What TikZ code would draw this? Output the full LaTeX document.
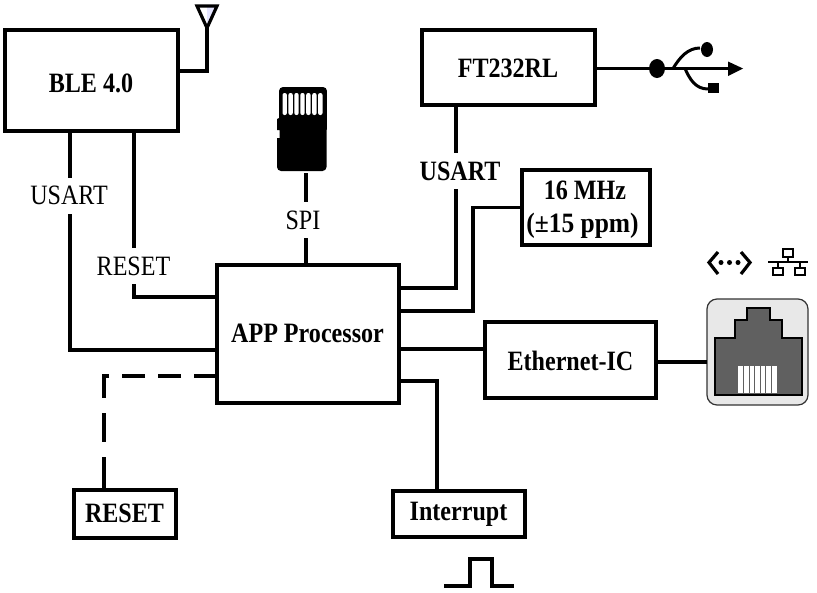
\documentclass[tikz,border=0pt]{standalone}
\usepackage{graphicx}
\usepackage{fontspec}
\usetikzlibrary{shapes.geometric}
\setmainfont{Liberation Serif}
\newcommand{\tall}[2][.86]{\scalebox{#1}[1]{#2}}
\begin{document}
\begin{tikzpicture}[x=1pt,y=-1pt]
    \tikzstyle{box} = [draw, line width=3.4pt, outer sep=0pt, inner sep=0pt, font=\fontsize{28}{32}\selectfont\bfseries, align=center];
    \tikzstyle{wire} = [line width=3.4pt];
    \tikzstyle{busname} = [fill=white, inner xsep=1pt, inner ysep=0pt, minimum height=36pt, font=\fontsize{28}{32}\selectfont];
    \tikzstyle{icon} = [line width=3.2pt, line join=miter];
    \definecolor{jackfill}{HTML}{606060}
    \definecolor{jackback}{HTML}{E8E8E8}
    \useasboundingbox (0,0) rectangle (817,592);

    % blocks
    \node [box, minimum width=173pt, minimum height=101pt] (ble) at (91.5,80.5) {};
    \node [box, minimum width=173pt, minimum height=75pt] (ftdi) at (508.5,67.5) {};
    \node [box, minimum width=128pt, minimum height=75pt] (xtal) at (586,207.5) {};
    \node [box, minimum width=182pt, minimum height=138pt] (app) at (308,334) {};
    \node [box, minimum width=171pt, minimum height=76pt] (eth) at (570.5,360) {};
    \node [box, minimum width=102pt, minimum height=48pt] (rst) at (125,514) {};
    \node [box, minimum width=132pt, minimum height=46pt] (irq) at (459,514) {};
    \node [draw=black!80, fill=jackback, line width=1.2pt, rounded corners=10pt, outer sep=0pt, minimum width=101pt, minimum height=106pt] (rj) at (757.5,352) {};
    \node [ellipse, fill=black, inner sep=0pt, minimum width=16pt, minimum height=19pt] (usbdot) at (657,68.5) {};

    % block texts
    \node [box, draw=none] (bletext) at (91,83.5) {\tall{BLE 4.0}};
    \node [box, draw=none] (ftditext) at (508,68) {\tall{FT232RL}};
    \node [box, draw=none] (xtaltop) at (585,190) {\tall{16 MHz}};
    \node [box, draw=none] (xtalbot) at (582.5,226) {\tall[.91]{(±15 ppm)}};
    \node [box, draw=none] (apptext) at (307.5,333) {\tall{APP Processor}};
    \node [box, draw=none] (ethtext) at (570.5,361) {\tall{Ethernet-IC}};
    \node [box, draw=none] (rsttext) at (124.5,513) {\tall{RESET}};
    \node [box, draw=none] (irqtext) at (458.5,514) {\tall{Interrupt}};

    % free ends
    \coordinate (antenna) at (207,28);
    \coordinate (sdcard) at (306,173);
    \coordinate (rstcorner) at (104,376);

    % connections
    \draw [wire] (ble.south -| 70,0) |- (app.west |- 0,350);
    \draw [wire] (ble.south -| 134,0) |- (app.west |- 0,297);
    \draw [wire, dash pattern=on 23pt off 13pt] (app.west |- rstcorner) -- ([xshift=-1.7pt]rstcorner);
    \draw [wire, dash pattern=on 22pt off 15pt on 29pt off 15pt on 40pt off 1pt] (rstcorner) -- (rst.north -| rstcorner);
    \draw [wire] (ble.east |- 0,71) -| (antenna);
    \draw [wire] (app.north -| sdcard) -- (sdcard);
    \draw [wire] (ftdi.south -| 456,0) |- (app.east |- 0,288);
    \draw [wire] (xtal.west) -| (473,311) -- (app.east |- 0,311);
    \draw [wire] (app.east |- 0,349) -- (eth.west |- 0,349);
    \draw [wire] (app.east |- 0,381) -| (irq.north -| 437,0);
    \draw [wire] (eth.east |- 0,362) -- (rj.west |- 0,362);
    \draw [wire] (ftdi.east |- usbdot) -- (usbdot);

    % bus names
    \node [busname] (usartble) at (69,195.5) {\tall{USART}};
    \node [busname] (resetble) at (133.5,266) {\tall{RESET}};
    \node [busname] (spi) at (303,220) {\tall{SPI}};
    \node [busname, font=\fontsize{28}{32}\selectfont\bfseries] (usartftdi) at (460,171) {\tall{USART}};

    % antenna
    \fill [blue!10] (207,7) -- (216,7) -- (207,27) -- cycle;
    \draw [icon] (197,6) -- (217,6) -- (207,28) -- cycle;

    % usb symbol
    \draw [line width=3.2pt] (usbdot) -- (730,68.5);
    \fill (728,61.5) -- (743,68.5) -- (728,76) -- cycle;
    \draw [line width=3pt] (673,68.5) .. controls (680,57) and (688,48) .. (700,48);
    \fill (707,49.5) ellipse (6pt and 7.5pt);
    \draw [line width=3pt] (685,68.5) .. controls (690,80) and (696,89) .. (708,89);
    \fill (708,83) rectangle (719,93);

    % sd card
    \fill [rounded corners=4pt] (279,100) -- (279,87) -- (327,87) -- (326.5,171) -- (277,171) [sharp corners] -- (277,138) -- (279.5,138) -- (279.5,130) -- (277,130) -- (277,119) -- (279,118) -- cycle;
    \foreach \x in {284.7,290.6,296.5,302.5,308.4,314.4,320.3}
        \fill [white, rounded corners=2pt] (\x-2.2,93) rectangle (\x+2.2,115);

    % jack
    \draw [fill=jackfill, line width=1.5pt] (715,395) -- (715,338) -- (735,338) -- (735,320) -- (747,320) -- (747,308) -- (770,308) -- (770,320) -- (782,320) -- (782,338) -- (802,338) -- (802,395) -- cycle;
    \fill [white] (738,366) rectangle (777,393);
    \foreach \x in {743.5,749,754.5,760,765.5,771}
        \draw [jackfill, line width=1pt] (\x,366) -- (\x,393);

    % network marks
    \draw [icon] (718,252) -- (709,262.5) -- (718,274);
    \draw [icon] (741,252) -- (750,262.5) -- (741,274);
    \foreach \x in {721,729.5,738}
        \fill (\x,262.5) circle (2.5pt);
    \draw [line width=1.5pt] (783,249) rectangle (793,257);
    \draw [line width=1.5pt] (773,268) rectangle (783,275);
    \draw [line width=1.5pt] (795,268) rectangle (805,275);
    \draw [line width=1.5pt] (788,257) -- (788,262) (768,262) -- (808,262) (778,262) -- (778,268) (800,262) -- (800,268);

    % pulse
    \draw [line width=3.2pt] (444,586) -- (470,586) -- (470,559) -- (492,559) -- (492,586) -- (514,586);
\end{tikzpicture}
\end{document}
